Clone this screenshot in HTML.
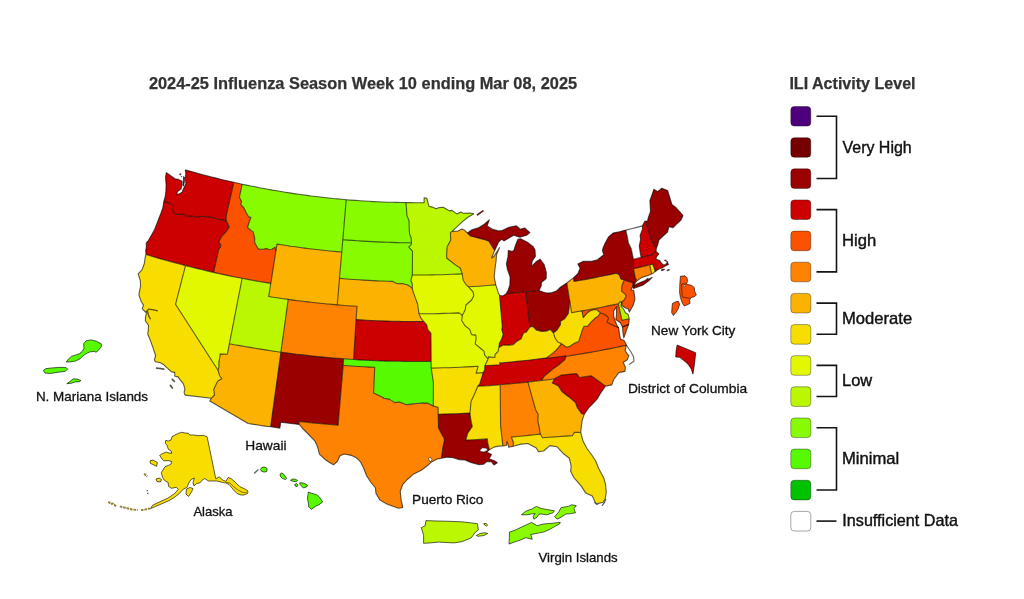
<!DOCTYPE html>
<html><head><meta charset="utf-8"><style>
html,body{margin:0;padding:0;background:#fff;}
svg{display:block;will-change:transform;}
text{font-family:"Liberation Sans",sans-serif;}
.ttl{font-size:16.3px;font-weight:bold;fill:#333;stroke:#333;stroke-width:0.25px;}
.lg{font-size:16.3px;fill:#111;stroke:#111;stroke-width:0.4px;}
.lb{font-size:13.6px;fill:#111;stroke:#111;stroke-width:0.3px;}
</style></head><body>
<svg width="1024" height="599" viewBox="0 0 1024 599">
<g class="fl">
<path d="M185.2,169.9L189.6,171.1L194.0,172.3L198.4,173.6L202.8,174.7L207.2,175.9L211.6,177.0L216.0,178.1L220.4,179.2L224.9,180.3L229.3,181.3L233.8,182.3L226.3,215.3L226.2,220.9L221.6,219.9L217.0,218.8L212.4,217.7L207.8,216.6L207.8,216.6L204.7,216.8L202.0,216.3L196.0,217.4L192.1,216.1L186.7,216.3L184.4,214.3L179.6,214.4L176.7,214.5L173.0,212.1L173.4,209.4L173.4,206.0L171.0,204.4L168.7,202.6L165.0,202.1L163.9,201.0L165.2,196.7L165.9,191.4L166.1,184.6L165.5,177.6L166.3,172.6L171.1,175.9L174.9,178.7L178.4,179.4L182.0,181.2L182.0,184.6L181.1,189.1L178.2,191.0L176.5,193.9L179.2,194.0L182.1,192.1L183.6,188.5L185.9,183.7L185.5,180.1L185.6,176.8L185.8,172.8L185.2,169.9Z" fill="#cc0000"/>
<path d="M163.9,201.0L165.0,202.1L168.7,202.6L171.0,204.4L173.4,206.0L173.4,209.4L173.0,212.1L176.7,214.5L179.6,214.4L184.4,214.3L186.7,216.3L192.1,216.1L196.0,217.4L202.0,216.3L204.7,216.8L207.8,216.6L207.8,216.6L212.4,217.7L217.0,218.8L221.6,219.9L226.2,220.9L227.7,223.3L229.1,227.0L227.1,230.6L223.9,234.0L221.4,236.8L218.7,242.3L220.7,244.1L220.6,246.8L218.8,249.1L213.6,272.4L207.9,271.1L202.3,269.8L196.7,268.4L191.1,267.0L185.5,265.6L180.5,264.3L175.6,263.0L170.6,261.6L165.7,260.3L160.8,258.9L155.8,257.4L150.9,256.0L146.0,254.5L145.7,250.9L146.4,246.3L146.2,242.9L148.4,240.6L152.1,234.1L154.6,229.4L157.5,222.0L160.9,213.3L162.7,208.3L163.9,201.0Z" fill="#cc0000"/>
<path d="M146.0,254.5L150.9,256.0L155.8,257.4L160.8,258.9L165.7,260.3L170.6,261.6L175.6,263.0L180.5,264.3L185.5,265.6L175.5,304.3L218.0,370.3L219.6,375.7L221.8,378.8L218.1,380.8L216.6,383.2L213.7,389.4L214.5,395.0L211.4,398.2L185.0,395.1L184.1,392.6L184.9,388.7L183.3,383.6L179.8,379.4L178.1,376.9L174.9,376.2L174.7,372.4L171.5,371.9L167.4,368.2L163.3,364.4L160.4,362.8L155.5,361.7L154.4,360.0L155.6,355.5L154.1,351.0L152.5,346.4L150.0,339.5L147.7,334.0L148.3,330.1L148.5,325.3L145.4,320.9L145.5,316.8L146.6,313.0L142.2,308.9L143.5,305.1L141.3,301.7L139.0,295.2L139.2,292.7L140.6,286.2L140.3,280.5L138.2,273.8L141.9,269.9L144.3,263.7L145.1,257.7L146.0,254.5Z" fill="#f8dd00"/>
<path d="M185.5,265.6L191.1,267.0L196.7,268.4L202.3,269.8L207.9,271.1L213.6,272.4L219.3,273.6L225.0,274.9L230.7,276.1L236.4,277.2L242.1,278.3L229.4,343.7L227.4,354.2L223.7,354.1L219.9,354.0L220.2,355.4L218.9,362.0L218.9,367.4L218.0,370.3L175.5,304.3L185.5,265.6Z" fill="#e1f800"/>
<path d="M233.8,182.3L242.2,184.2L239.4,197.2L241.6,201.4L240.8,204.6L244.0,208.0L246.3,212.7L248.7,216.9L250.9,217.4L248.9,223.0L247.5,227.5L251.6,230.9L253.3,231.9L254.8,238.9L254.6,242.2L257.8,248.2L259.6,249.2L263.4,249.2L266.4,248.4L269.0,249.5L271.9,249.3L275.1,247.1L275.9,250.9L270.8,283.4L265.0,282.4L259.3,281.5L253.5,280.5L247.8,279.4L242.1,278.3L236.4,277.2L230.7,276.1L225.0,274.9L219.3,273.6L213.6,272.4L218.8,249.1L220.6,246.8L220.7,244.1L218.7,242.3L221.4,236.8L223.9,234.0L227.1,230.6L229.1,227.0L227.7,223.3L226.2,220.9L226.3,215.3L233.8,182.3Z" fill="#fb5200"/>
<path d="M242.2,184.2L246.5,185.1L250.8,186.0L255.1,186.8L259.4,187.7L263.7,188.5L268.0,189.3L272.3,190.1L276.7,190.8L281.0,191.5L285.3,192.2L289.6,192.9L294.0,193.6L298.3,194.2L302.6,194.8L307.0,195.4L311.3,196.0L315.7,196.5L320.0,197.0L324.4,197.5L328.7,198.0L333.1,198.5L337.5,198.9L341.8,199.3L346.2,199.7L342.8,239.7L341.8,252.0L337.1,251.6L332.5,251.2L327.8,250.7L323.2,250.2L318.6,249.7L313.9,249.2L309.3,248.7L304.7,248.1L300.1,247.5L295.5,246.8L290.8,246.2L286.2,245.5L281.6,244.8L277.0,244.1L277.0,244.1L275.9,250.9L275.1,247.1L271.9,249.3L269.0,249.5L266.4,248.4L263.4,249.2L259.6,249.2L257.8,248.2L254.6,242.2L254.8,238.9L253.3,231.9L251.6,230.9L247.5,227.5L248.9,223.0L250.9,217.4L248.7,216.9L246.3,212.7L244.0,208.0L240.8,204.6L241.6,201.4L239.4,197.2L242.2,184.2Z" fill="#88fb00"/>
<path d="M275.9,250.9L277.0,244.1L277.0,244.1L281.6,244.8L286.2,245.5L290.8,246.2L295.5,246.8L300.1,247.5L304.7,248.1L309.3,248.7L313.9,249.2L318.6,249.7L323.2,250.2L327.8,250.7L332.5,251.2L337.1,251.6L341.8,252.0L339.5,278.4L337.3,304.9L332.3,304.4L327.4,304.0L322.5,303.5L317.6,303.0L312.7,302.5L307.8,301.9L302.9,301.3L298.0,300.7L293.1,300.1L288.2,299.4L283.3,298.7L278.4,298.0L273.5,297.3L268.7,296.5L270.8,283.4L275.9,250.9Z" fill="#fcb200"/>
<path d="M242.1,278.3L247.8,279.4L253.5,280.5L259.3,281.5L265.0,282.4L270.8,283.4L268.7,296.5L273.5,297.3L278.4,298.0L283.3,298.7L288.2,299.4L280.9,352.2L275.7,351.5L270.6,350.7L265.4,349.9L260.3,349.1L255.1,348.3L250.0,347.4L244.8,346.5L239.7,345.6L234.5,344.7L229.4,343.7L242.1,278.3Z" fill="#bbf700"/>
<path d="M229.4,343.7L234.5,344.7L239.7,345.6L244.8,346.5L250.0,347.4L255.1,348.3L260.3,349.1L265.4,349.9L270.6,350.7L275.7,351.5L280.9,352.2L270.6,426.8L265.0,426.1L259.4,425.2L253.8,424.4L248.1,423.5L248.1,423.5L209.8,401.0L211.4,398.2L214.5,395.0L213.7,389.4L216.6,383.2L218.1,380.8L221.8,378.8L219.6,375.7L218.0,370.3L218.9,367.4L218.9,362.0L220.2,355.4L219.9,354.0L223.7,354.1L227.4,354.2L229.4,343.7Z" fill="#fcb200"/>
<path d="M288.2,299.4L293.1,300.1L298.0,300.7L302.9,301.3L307.8,301.9L312.7,302.5L317.6,303.0L322.5,303.5L327.4,304.0L332.3,304.4L337.3,304.9L342.2,305.3L347.1,305.7L352.0,306.0L357.0,306.3L356.1,319.6L353.6,359.5L343.7,358.8L338.4,358.4L333.2,358.0L327.9,357.5L322.7,357.1L317.5,356.6L312.2,356.0L307.0,355.4L301.8,354.8L296.6,354.2L291.3,353.6L286.1,352.9L280.9,352.2L288.2,299.4Z" fill="#fd8300"/>
<path d="M280.9,352.2L286.1,352.9L291.3,353.6L296.6,354.2L301.8,354.8L307.0,355.4L312.2,356.0L317.5,356.6L322.7,357.1L327.9,357.5L333.2,358.0L338.4,358.4L343.7,358.8L343.2,365.5L338.1,425.1L338.1,425.1L332.5,424.7L326.8,424.2L321.2,423.7L315.6,423.2L309.9,422.6L304.3,422.0L298.7,421.4L299.3,424.4L293.1,423.7L286.9,423.0L280.7,422.2L279.9,428.1L279.9,428.1L270.6,426.8L280.9,352.2Z" fill="#9b0000"/>
<path d="M346.2,199.7L350.8,200.1L355.4,200.4L360.0,200.7L364.5,201.0L369.1,201.3L373.7,201.6L378.3,201.8L382.9,202.0L387.5,202.2L392.1,202.3L396.7,202.4L401.3,202.5L405.9,202.6L406.5,209.1L406.9,215.7L409.1,220.9L409.2,228.8L409.6,234.1L411.2,238.0L411.5,242.8L406.6,242.7L401.7,242.7L396.8,242.6L391.9,242.4L387.0,242.3L382.0,242.1L377.1,241.9L372.2,241.6L367.3,241.4L362.4,241.1L357.5,240.8L352.6,240.4L347.7,240.1L342.8,239.7L346.2,199.7Z" fill="#88fb00"/>
<path d="M342.8,239.7L347.7,240.1L352.6,240.4L357.5,240.8L362.4,241.1L367.3,241.4L372.2,241.6L377.1,241.9L382.0,242.1L387.0,242.3L391.9,242.4L396.8,242.6L401.7,242.7L406.6,242.7L411.5,242.8L411.1,244.6L408.8,247.2L412.5,251.2L412.4,275.0L410.9,280.3L412.3,284.3L412.3,288.4L409.9,286.3L407.0,284.7L402.2,283.5L397.4,283.7L392.7,281.4L387.8,281.2L383.0,281.0L378.2,280.9L373.3,280.6L368.5,280.4L363.7,280.1L358.8,279.8L354.0,279.5L349.2,279.2L344.3,278.8L339.5,278.4L341.8,252.0L342.8,239.7Z" fill="#88fb00"/>
<path d="M339.5,278.4L344.3,278.8L349.2,279.2L354.0,279.5L358.8,279.8L363.7,280.1L368.5,280.4L373.3,280.6L378.2,280.9L383.0,281.0L387.8,281.2L392.7,281.4L397.4,283.7L402.2,283.5L407.0,284.7L409.9,286.3L412.3,288.4L413.3,292.3L415.7,298.9L417.7,304.3L418.2,308.2L419.0,313.8L420.7,317.6L423.6,321.5L418.4,321.6L413.2,321.5L408.0,321.5L402.8,321.5L397.6,321.4L392.4,321.2L387.2,321.1L382.0,320.9L376.9,320.7L371.7,320.5L366.5,320.2L361.3,319.9L356.1,319.6L357.0,306.3L352.0,306.0L347.1,305.7L342.2,305.3L337.3,304.9L339.5,278.4Z" fill="#fcb200"/>
<path d="M356.1,319.6L361.3,319.9L366.5,320.2L371.7,320.5L376.9,320.7L382.0,320.9L387.2,321.1L392.4,321.2L397.6,321.4L402.8,321.5L408.0,321.5L413.2,321.5L418.4,321.6L423.6,321.5L426.7,324.8L427.8,329.5L430.9,333.2L431.2,361.4L425.5,361.5L420.0,361.5L414.5,361.5L408.9,361.5L403.4,361.4L397.8,361.3L392.3,361.2L386.8,361.1L381.2,360.9L375.7,360.7L370.2,360.4L364.6,360.2L359.1,359.9L353.6,359.5L356.1,319.6Z" fill="#cc0000"/>
<path d="M343.7,358.8L353.6,359.5L359.1,359.9L364.6,360.2L370.2,360.4L375.7,360.7L381.2,360.9L386.8,361.1L392.3,361.2L397.8,361.3L403.4,361.4L408.9,361.5L414.5,361.5L420.0,361.5L425.5,361.5L431.1,361.4L431.2,368.1L433.4,382.7L433.3,406.1L427.5,403.1L422.1,403.0L416.7,403.5L411.2,404.1L405.8,404.7L403.6,403.4L399.3,402.0L394.9,402.6L389.6,399.4L384.2,398.3L378.9,395.4L373.6,393.1L374.7,367.3L374.7,367.3L369.4,367.1L364.2,366.8L358.9,366.5L353.7,366.2L348.4,365.8L343.2,365.5L343.7,358.8Z" fill="#58fa00"/>
<path d="M343.2,365.5L338.1,425.1L338.1,425.1L332.5,424.7L326.8,424.2L321.2,423.7L315.6,423.2L309.9,422.6L304.3,422.0L298.7,421.4L299.3,424.4L302.6,428.5L308.7,434.5L314.9,441.1L317.7,447.3L319.4,454.1L324.7,459.2L329.1,462.2L333.5,464.8L337.3,461.5L340.0,455.7L344.1,454.0L351.5,455.4L355.9,457.4L360.3,461.6L363.5,467.7L366.6,475.8L371.0,482.5L375.5,488.0L375.9,493.2L379.8,499.9L385.6,503.4L392.8,506.2L398.7,508.2L402.9,507.5L401.2,500.4L400.2,491.2L402.6,484.7L407.3,479.5L413.2,474.3L421.3,470.3L428.2,465.0L431.0,462.3L437.3,458.9L441.3,458.2L442.3,452.2L442.8,447.6L444.3,440.9L444.2,438.3L441.1,433.0L438.5,427.9L438.2,414.3L438.1,407.2L433.3,406.1L427.5,403.1L422.1,403.0L416.7,403.5L411.2,404.1L405.8,404.7L403.6,403.4L399.3,402.0L394.9,402.6L389.6,399.4L384.2,398.3L378.9,395.4L373.6,393.1L374.7,367.3L374.7,367.3L369.4,367.1L364.2,366.8L358.9,366.5L353.7,366.2L348.4,365.8L343.2,365.5Z" fill="#fd8300"/>
<path d="M405.9,202.6L410.5,202.6L415.0,202.7L419.6,202.7L424.1,202.6L424.1,197.7L426.9,198.4L428.3,203.9L429.0,206.2L432.1,207.1L436.1,208.7L439.2,207.6L443.1,207.2L446.7,209.3L449.4,210.9L452.1,210.4L456.7,213.9L461.0,211.9L462.9,213.2L470.0,213.0L473.8,213.8L467.6,217.5L461.6,222.4L456.4,227.3L452.1,231.4L450.4,232.6L450.7,240.3L447.1,246.7L446.8,250.7L446.6,258.0L451.4,261.8L455.3,264.9L460.2,268.0L462.2,273.9L457.2,274.1L452.2,274.3L447.3,274.5L442.3,274.7L437.3,274.8L432.3,274.9L427.3,275.0L422.4,275.0L417.4,275.0L412.4,275.0L412.5,251.2L408.8,247.2L411.1,244.6L411.5,242.8L411.2,238.0L409.6,234.1L409.2,228.8L409.1,220.9L406.9,215.7L406.5,209.1L405.9,202.6Z" fill="#bbf700"/>
<path d="M412.4,275.0L417.4,275.0L422.4,275.0L427.3,275.0L432.3,274.9L437.3,274.8L442.3,274.7L447.3,274.5L452.2,274.3L457.2,274.1L462.2,273.9L463.2,280.5L465.8,284.3L468.5,286.8L473.0,291.9L473.8,295.8L471.6,300.0L465.9,305.0L465.2,309.7L462.3,315.4L459.1,312.9L454.1,313.1L449.1,313.3L444.0,313.4L439.0,313.6L434.0,313.7L429.0,313.8L424.0,313.8L419.0,313.8L418.2,308.2L417.7,304.3L415.7,298.9L413.3,292.3L412.3,288.4L412.3,284.3L410.9,280.3L412.4,275.0Z" fill="#e1f800"/>
<path d="M419.0,313.8L424.0,313.8L429.0,313.8L434.0,313.7L439.0,313.6L444.0,313.4L449.1,313.3L454.1,313.1L459.1,312.9L462.3,315.4L461.7,320.5L465.0,325.7L469.7,329.4L471.6,334.6L475.7,335.1L476.1,338.4L475.2,343.8L479.5,347.5L483.9,351.2L484.7,355.2L488.1,358.9L486.7,361.7L484.9,365.8L484.7,369.9L483.3,372.6L476.2,373.1L478.1,366.3L478.1,366.3L472.2,366.6L466.4,366.9L460.5,367.2L454.6,367.5L448.8,367.7L442.9,367.8L437.0,368.0L431.2,368.1L431.1,361.4L430.9,333.2L427.8,329.5L426.7,324.8L423.6,321.5L420.7,317.6L419.0,313.8Z" fill="#e1f800"/>
<path d="M431.2,368.1L437.0,368.0L442.9,367.8L448.8,367.7L454.6,367.5L460.5,367.2L466.4,366.9L472.2,366.6L478.1,366.3L478.1,366.3L476.2,373.1L483.3,372.6L481.5,378.1L479.7,384.2L477.7,386.3L474.9,393.2L471.0,401.4L470.0,413.4L463.6,413.4L457.3,413.7L450.9,413.9L444.6,414.1L438.2,414.3L438.1,407.2L433.3,406.1L433.4,382.7L431.2,368.1Z" fill="#f8dd00"/>
<path d="M438.2,414.3L444.6,414.1L450.9,413.9L457.3,413.7L463.6,413.4L470.0,413.1L470.9,420.0L472.3,426.5L467.6,433.4L465.9,440.1L465.9,440.1L473.1,439.8L480.2,439.4L487.3,438.9L488.0,444.2L489.5,449.7L486.8,452.2L491.6,454.5L489.0,458.7L494.9,460.9L497.3,462.7L494.0,465.0L491.5,461.8L486.8,461.5L483.6,464.3L479.0,464.6L474.3,463.5L470.8,462.4L464.9,460.0L459.1,459.6L453.3,457.8L447.6,457.1L441.3,458.2L442.3,452.2L442.8,447.6L444.3,440.9L444.2,438.3L441.1,433.0L438.5,427.9L438.2,414.3Z" fill="#9b0000"/>
<path d="M452.1,231.4L457.5,231.2L461.9,229.0L464.3,230.1L467.4,233.0L470.5,236.0L479.9,238.4L484.6,239.6L489.3,241.6L492.6,247.3L494.7,250.4L491.6,258.0L493.9,256.5L499.6,247.6L496.5,254.9L496.1,260.9L495.2,267.0L494.2,277.0L495.8,284.9L490.4,285.3L484.9,285.8L479.4,286.2L473.9,286.5L468.5,286.8L465.8,284.3L463.2,280.5L462.2,273.9L460.2,268.0L455.3,264.9L451.4,261.8L446.6,258.0L446.8,250.7L447.1,246.7L450.7,240.3L450.4,232.6L452.1,231.4Z" fill="#fcb200"/>
<path d="M495.8,284.9L490.4,285.3L484.9,285.8L479.4,286.2L473.9,286.5L468.5,286.8L473.0,291.9L473.8,295.8L471.6,300.0L465.9,305.0L465.2,309.7L462.3,315.4L461.7,320.5L465.0,325.7L469.7,329.4L471.6,334.6L475.7,335.1L476.1,338.4L475.2,343.8L479.5,347.5L483.9,351.2L484.7,355.2L488.1,358.9L488.5,356.9L494.8,357.5L495.1,354.4L498.0,351.5L498.9,347.4L499.3,343.4L501.6,339.2L503.2,334.3L501.8,329.8L502.3,326.4L499.5,295.2L498.5,293.3L495.8,284.9Z" fill="#e1f800"/>
<path d="M506.2,293.8L511.1,293.3L516.0,292.8L520.9,292.3L525.7,291.7L539.0,290.5L541.3,285.8L541.3,282.5L546.2,278.5L546.3,272.4L544.2,264.7L540.1,259.2L536.1,261.8L531.5,266.4L532.2,261.0L535.4,256.5L535.0,249.9L533.2,246.8L527.4,242.2L520.5,238.7L517.8,239.4L515.3,245.7L513.9,250.5L511.7,251.4L508.3,250.4L508.0,256.4L506.4,263.9L507.4,269.2L510.1,276.9L509.9,284.9L508.0,290.4L506.2,293.8Z" fill="#9b0000"/>
<path d="M467.4,233.0L472.0,229.7L478.2,227.9L484.3,224.2L489.3,219.8L487.1,225.9L492.9,229.4L498.5,230.9L502.1,230.5L509.1,227.2L516.2,225.7L520.3,229.2L524.7,228.0L529.9,232.6L526.6,235.3L519.9,237.2L513.6,235.3L509.3,237.7L504.1,240.9L501.6,239.2L498.6,242.1L494.7,250.4L492.6,247.3L489.3,241.6L484.6,239.6L479.9,238.4L470.5,236.0L467.4,233.0Z" fill="#9b0000"/>
<path d="M499.5,295.2L502.7,296.0L506.2,293.8L511.1,293.3L516.0,292.8L520.9,292.3L525.7,291.7L529.8,326.9L526.5,332.0L523.5,333.0L521.1,338.9L516.2,341.8L513.4,344.7L509.3,345.1L503.1,345.0L498.9,347.4L499.3,343.4L501.6,339.2L503.2,334.3L501.8,329.8L502.3,326.4L499.5,295.2Z" fill="#cc0000"/>
<path d="M525.7,291.7L539.0,290.5L543.7,292.2L546.8,293.1L550.7,292.9L556.4,291.1L560.7,287.0L566.8,283.0L569.7,300.5L569.3,306.5L568.4,313.4L564.7,318.7L560.5,321.4L560.5,324.8L557.1,330.0L553.4,332.9L550.4,329.6L546.0,331.3L541.9,331.4L536.5,330.1L533.0,326.5L529.8,326.9L525.7,291.7Z" fill="#9b0000"/>
<path d="M553.4,332.9L550.4,329.6L546.0,331.3L541.9,331.4L536.5,330.1L533.0,326.5L529.8,326.9L526.5,332.0L523.5,333.0L521.1,338.9L516.2,341.8L513.4,344.7L509.3,345.1L503.1,345.0L498.9,347.4L498.0,351.5L495.1,354.4L494.8,357.5L488.5,356.9L488.1,358.9L486.7,361.7L484.9,365.8L500.1,364.7L499.7,362.3L499.8,363.0L505.5,362.5L511.2,362.0L516.9,361.4L522.7,360.8L528.4,360.2L534.1,359.5L539.8,358.8L545.5,358.1L551.2,354.4L555.9,350.4L558.6,347.3L561.5,343.6L557.8,342.0L555.2,338.3L553.4,332.9Z" fill="#f8dd00"/>
<path d="M484.9,365.8L500.1,364.7L499.7,362.3L499.8,363.0L505.5,362.5L511.2,362.0L516.9,361.4L522.7,360.8L528.4,360.2L534.1,359.5L539.8,358.8L545.5,358.1L566.4,355.7L564.7,359.9L560.9,363.1L558.0,365.5L553.1,368.9L549.3,372.0L544.4,376.1L541.5,380.5L534.7,381.3L527.9,382.1L522.4,382.7L516.8,383.2L511.3,383.8L505.7,384.3L500.2,384.7L494.6,385.2L489.0,385.6L483.3,386.0L477.7,386.3L479.7,384.2L481.5,378.1L483.3,372.6L484.7,369.9L484.9,365.8Z" fill="#cc0000"/>
<path d="M477.7,386.3L483.3,386.0L489.0,385.6L494.6,385.2L500.2,384.7L500.6,426.1L502.9,446.0L498.4,446.1L493.9,447.1L489.5,449.7L488.0,444.2L487.3,438.9L480.2,439.4L473.1,439.8L465.9,440.1L465.9,440.1L467.6,433.4L472.3,426.5L470.9,420.0L470.0,413.4L471.0,401.4L474.9,393.2L477.7,386.3Z" fill="#f8dd00"/>
<path d="M500.2,384.7L505.7,384.3L511.3,383.8L516.8,383.2L522.4,382.7L527.9,382.1L535.6,409.7L538.1,414.3L537.8,421.1L539.0,426.3L540.4,434.1L534.6,434.8L528.8,435.4L522.9,436.0L517.1,436.5L511.3,437.1L513.4,442.2L513.2,446.2L508.7,447.3L507.1,441.4L506.3,445.5L502.9,446.0L500.6,426.1L500.2,384.9Z" fill="#fd8300"/>
<path d="M527.9,382.1L534.7,381.3L541.5,380.5L548.0,379.7L554.5,378.8L552.4,383.1L558.2,385.7L561.7,391.2L566.6,395.2L569.7,397.4L575.5,402.6L577.4,407.7L581.7,413.7L584.3,414.3L582.2,420.4L581.4,425.9L580.7,432.5L577.8,432.4L574.4,432.3L572.6,435.6L542.5,437.8L540.4,434.1L539.0,426.3L537.8,421.1L538.1,414.3L535.6,409.7L527.9,382.1Z" fill="#fcb200"/>
<path d="M540.4,434.1L542.5,437.8L572.6,435.6L574.4,432.3L577.8,432.4L580.7,432.5L583.2,441.6L587.3,449.0L591.8,455.0L595.7,461.0L598.7,468.5L603.9,478.3L605.6,484.6L606.3,492.5L605.0,499.3L603.1,502.3L596.0,504.1L592.3,496.1L585.8,493.1L581.1,485.9L573.9,477.6L570.7,471.4L571.1,466.1L569.4,458.3L563.6,453.8L556.9,446.7L549.8,445.6L543.6,451.0L538.4,451.6L536.3,447.9L527.8,443.5L521.0,444.1L513.2,446.2L513.4,442.2L511.3,437.1L517.1,436.5L522.9,436.0L528.8,435.4L534.6,434.8L540.4,434.1Z" fill="#f8dd00"/>
<path d="M554.5,378.8L561.5,375.1L575.9,373.6L577.1,374.1L579.5,377.5L591.2,375.8L605.5,386.1L600.2,393.8L597.2,399.0L593.4,403.1L588.6,407.9L584.3,414.3L581.7,413.7L577.4,407.7L575.5,402.6L569.7,397.4L566.6,395.2L561.7,391.2L558.2,385.7L552.4,383.1L554.5,378.8Z" fill="#cc0000"/>
<path d="M541.5,380.5L544.4,376.1L549.3,372.0L553.1,368.9L558.0,365.5L560.9,363.1L564.7,359.9L566.4,355.7L571.9,355.4L577.4,354.5L582.9,353.6L588.4,352.6L593.8,351.7L599.3,350.7L604.7,349.6L610.2,348.6L615.6,347.5L621.0,346.4L626.5,345.2L625.1,350.3L626.8,353.3L628.9,355.6L627.1,360.1L623.2,362.2L625.4,367.2L624.9,371.4L618.8,372.6L613.6,379.8L611.8,384.9L605.5,386.1L591.2,375.8L579.5,377.5L577.1,374.1L575.9,373.6L561.5,375.1L554.5,378.8L548.0,379.7L541.5,380.5Z" fill="#fd8300"/>
<path d="M561.5,343.6L558.6,347.3L555.9,350.4L551.2,354.4L545.6,358.5L566.4,355.7L571.9,355.4L577.4,354.5L582.9,353.6L588.4,352.6L593.8,351.7L599.3,350.7L604.7,349.6L610.2,348.6L615.6,347.5L621.0,346.4L626.5,345.2L624.1,340.6L620.5,339.0L619.3,333.1L618.7,327.8L614.6,325.9L609.4,323.6L607.0,322.0L608.5,318.3L607.5,316.5L603.4,313.9L600.4,312.9L598.1,316.3L594.9,318.3L591.4,321.6L587.6,326.4L583.9,326.4L582.1,330.7L580.8,335.0L578.7,341.4L573.8,343.6L570.0,346.2L566.5,347.2L561.5,343.6Z" fill="#fb5200"/>
<path d="M628.6,324.6L626.2,331.0L623.8,337.9L623.0,333.0L622.5,327.0Z" fill="#fb5200"/>
<path d="M561.5,343.6L557.8,342.0L555.2,338.3L553.4,332.9L557.1,330.0L560.5,324.8L560.5,321.4L564.7,318.7L568.4,313.4L569.3,306.5L569.7,300.5L571.6,312.6L571.6,312.6L576.8,311.8L582.0,310.9L583.2,317.7L586.8,313.4L589.5,311.2L593.3,309.8L596.9,309.8L600.4,312.9L598.1,316.3L594.9,318.3L591.4,321.6L587.6,326.4L583.9,326.4L582.1,330.7L580.8,335.0L578.7,341.4L573.8,343.6L570.0,346.2L566.5,347.2L561.5,343.6Z" fill="#f8dd00"/>
<path d="M600.4,312.9L596.9,309.8L593.3,309.8L589.5,311.2L586.8,313.4L583.2,317.7L582.0,310.9L587.2,310.0L592.4,309.0L597.6,308.0L602.8,307.0L608.0,305.9L613.2,304.9L618.4,303.8L621.9,320.2L629.3,318.7L628.6,324.6L622.5,327.0L620.3,322.7L615.9,319.5L616.5,314.7L616.5,309.9L616.8,306.4L613.6,311.2L613.6,315.9L615.2,321.0L617.3,326.1L618.7,327.8L614.6,325.9L609.4,323.6L607.0,322.0L608.5,318.3L607.5,316.5L603.4,313.9L600.4,312.9Z" fill="#fb5200"/>
<path d="M618.4,303.8L619.9,301.9L621.8,301.9L621.1,304.8L621.5,306.8L623.5,309.0L625.4,312.7L628.0,314.2L629.3,318.7L621.9,320.2L618.4,303.8Z" fill="#bbf700"/>
<path d="M573.4,277.9L570.4,280.1L566.8,283.0L569.7,300.5L571.6,312.6L571.6,312.6L576.8,311.8L582.0,310.9L587.2,310.0L592.4,309.0L597.6,308.0L602.8,307.0L608.0,305.9L613.2,304.9L618.4,303.8L619.9,301.9L621.8,301.9L624.1,300.0L626.3,296.1L624.8,293.8L621.6,291.1L621.7,286.9L622.6,284.0L624.2,280.1L620.9,278.9L619.0,274.6L616.1,273.2L616.1,273.2L610.8,274.4L605.6,275.5L600.3,276.5L595.1,277.6L589.8,278.6L584.6,279.6L579.3,280.5L574.0,281.5L573.4,277.9Z" fill="#fcb200"/>
<path d="M624.2,280.1L633.0,283.0L632.7,286.9L631.6,288.1L631.1,290.3L633.7,290.3L634.6,296.3L634.9,299.6L633.1,305.5L629.4,312.1L628.1,308.7L625.4,308.0L621.7,305.4L621.8,301.9L624.1,300.0L626.3,296.1L624.8,293.8L621.6,291.1L621.7,286.9L622.6,284.0L624.2,280.1Z" fill="#fb5200"/>
<path d="M573.4,277.9L578.1,273.3L580.1,268.3L577.9,263.9L582.8,261.4L591.5,261.4L597.5,259.8L601.3,256.7L603.8,254.8L602.4,250.4L603.2,247.5L605.2,243.0L608.6,236.8L613.0,233.1L613.0,233.1L619.4,231.7L625.8,230.1L627.3,236.6L628.4,243.1L631.2,248.6L633.4,259.0L633.5,268.5L635.4,278.3L636.4,279.4L635.3,282.4L634.6,285.3L632.7,286.9L633.0,283.0L624.2,280.1L620.9,278.9L619.0,274.6L616.1,273.2L616.1,273.2L610.8,274.4L605.6,275.5L600.3,276.5L595.1,277.6L589.8,278.6L584.6,279.6L579.3,280.5L574.0,281.5L573.4,277.9Z" fill="#9b0000"/>
<path d="M633.0,288.2L634.2,288.3L642.7,285.2L648.7,280.9L652.2,277.3L647.5,280.0L648.1,278.2L645.1,280.4L637.2,283.7L634.6,285.6L632.9,287.8Z" fill="#9b0000"/>
<path d="M633.6,268.8L639.0,267.4L644.3,266.1L649.7,264.7L651.6,274.0L647.4,275.7L641.8,277.4L638.3,279.9L635.3,282.4L636.4,279.4L635.4,278.3L633.5,268.5Z" fill="#fd8300"/>
<path d="M649.7,264.7L652.5,264.1L653.7,266.8L654.7,269.3L655.0,271.7L653.8,272.7L651.6,274.0L649.7,264.7Z" fill="#f8dd00"/>
<path d="M633.6,259.2L641.2,257.3L652.1,254.9L654.0,252.7L656.0,251.5L658.8,253.8L656.2,257.2L656.2,259.3L659.6,260.4L661.2,262.7L662.8,264.7L665.3,264.7L667.3,262.8L665.7,260.1L664.5,260.2L667.2,261.5L668.5,264.4L664.7,266.3L662.1,268.0L659.8,268.6L657.9,269.8L656.3,270.7L655.0,271.7L654.7,269.3L653.7,266.8L652.5,264.1L649.7,264.7L644.3,266.1L639.0,267.4L633.6,268.8L633.4,259.0Z" fill="#cc0000"/>
<path d="M625.8,230.1L631.4,228.8L636.9,227.4L642.4,225.9L642.4,229.4L640.1,235.4L640.6,239.4L639.3,245.9L640.4,253.8L641.2,257.3L633.6,259.2L631.2,248.6L628.4,243.1L627.3,236.6L625.8,230.1Z" fill="#ffffff"/>
<path d="M642.4,225.8L645.0,221.1L651.3,240.0L654.5,246.0L656.3,248.5L656.0,251.5L654.0,252.7L652.1,254.9L641.2,257.3L640.4,253.8L639.3,245.9L640.6,239.4L640.1,235.4L642.4,229.4L642.4,225.8Z" fill="#cc0000"/>
<path d="M645.2,221.1L647.5,221.4L648.1,218.3L650.5,211.4L649.9,200.7L653.9,189.3L657.6,191.6L661.8,188.3L667.6,190.4L671.9,204.5L676.4,208.0L680.2,212.3L683.1,215.5L680.7,220.4L676.1,224.6L673.1,227.6L668.9,226.8L667.5,232.0L662.0,237.0L658.9,240.0L658.0,243.7L656.3,248.5L654.5,246.0L651.3,240.0L645.2,221.1Z" fill="#9b0000"/>
</g>
<g fill="none" stroke="rgba(0,0,0,0.62)" stroke-width="1.1" stroke-linejoin="round">
<path d="M185.2,169.9L189.6,171.1L194.0,172.3L198.4,173.6L202.8,174.7L207.2,175.9L211.6,177.0L216.0,178.1L220.4,179.2L224.9,180.3L229.3,181.3L233.8,182.3"/>
<path d="M233.8,182.3L242.2,184.2"/>
<path d="M242.2,184.2L246.5,185.1L250.8,186.0L255.1,186.8L259.4,187.7L263.7,188.5L268.0,189.3L272.3,190.1L276.7,190.8L281.0,191.5L285.3,192.2L289.6,192.9L294.0,193.6L298.3,194.2L302.6,194.8L307.0,195.4L311.3,196.0L315.7,196.5L320.0,197.0L324.4,197.5L328.7,198.0L333.1,198.5L337.5,198.9L341.8,199.3L346.2,199.7"/>
<path d="M346.2,199.7L350.8,200.1L355.4,200.4L360.0,200.7L364.5,201.0L369.1,201.3L373.7,201.6L378.3,201.8L382.9,202.0L387.5,202.2L392.1,202.3L396.7,202.4L401.3,202.5L405.9,202.6"/>
<path d="M405.9,202.6L410.5,202.6L415.0,202.7L419.6,202.7L424.1,202.6L424.1,197.7L426.9,198.4L428.3,203.9L429.0,206.2L432.1,207.1L436.1,208.7L439.2,207.6L443.1,207.2L446.7,209.3L449.4,210.9L452.1,210.4L456.7,213.9L461.0,211.9L462.9,213.2L470.0,213.0L473.8,213.8"/>
<path d="M473.8,213.8L467.6,217.5L461.6,222.4L456.4,227.3L452.1,231.4"/>
<path d="M185.2,169.9L185.8,172.8L185.6,176.8L185.5,180.1L185.9,183.7L183.6,188.5L182.1,192.1L179.2,194.0L176.5,193.9L178.2,191.0L181.1,189.1L182.0,184.6L182.0,181.2L178.4,179.4L174.9,178.7L171.1,175.9L166.3,172.6L165.5,177.6L166.1,184.6L165.9,191.4L165.2,196.7L163.9,201.0"/>
<path d="M163.9,201.0L165.0,202.1L168.7,202.6L171.0,204.4L173.4,206.0L173.4,209.4L173.0,212.1L176.7,214.5L179.6,214.4L184.4,214.3L186.7,216.3L192.1,216.1L196.0,217.4L202.0,216.3L204.7,216.8L207.8,216.6L207.8,216.6L212.4,217.7L217.0,218.8L221.6,219.9L226.2,220.9"/>
<path d="M226.2,220.9L227.7,223.3L229.1,227.0L227.1,230.6L223.9,234.0L221.4,236.8L218.7,242.3L220.7,244.1L220.6,246.8L218.8,249.1L213.6,272.4"/>
<path d="M226.2,220.9L226.3,215.3L233.8,182.3"/>
<path d="M242.2,184.2L239.4,197.2L241.6,201.4L240.8,204.6L244.0,208.0L246.3,212.7L248.7,216.9L250.9,217.4L248.9,223.0L247.5,227.5L251.6,230.9L253.3,231.9L254.8,238.9L254.6,242.2L257.8,248.2L259.6,249.2L263.4,249.2L266.4,248.4L269.0,249.5L271.9,249.3L275.1,247.1L275.9,250.9"/>
<path d="M275.9,250.9L277.0,244.1L277.0,244.1L281.6,244.8L286.2,245.5L290.8,246.2L295.5,246.8L300.1,247.5L304.7,248.1L309.3,248.7L313.9,249.2L318.6,249.7L323.2,250.2L327.8,250.7L332.5,251.2L337.1,251.6L341.8,252.0"/>
<path d="M275.9,250.9L270.8,283.4"/>
<path d="M242.1,278.3L247.8,279.4L253.5,280.5L259.3,281.5L265.0,282.4L270.8,283.4"/>
<path d="M213.6,272.4L219.3,273.6L225.0,274.9L230.7,276.1L236.4,277.2L242.1,278.3"/>
<path d="M185.5,265.6L191.1,267.0L196.7,268.4L202.3,269.8L207.9,271.1L213.6,272.4"/>
<path d="M146.0,254.5L150.9,256.0L155.8,257.4L160.8,258.9L165.7,260.3L170.6,261.6L175.6,263.0L180.5,264.3L185.5,265.6"/>
<path d="M163.9,201.0L162.7,208.3L160.9,213.3L157.5,222.0L154.6,229.4L152.1,234.1L148.4,240.6L146.2,242.9L146.4,246.3L145.7,250.9L146.0,254.5"/>
<path d="M146.0,254.5L145.1,257.7L144.3,263.7L141.9,269.9L138.2,273.8L140.3,280.5L140.6,286.2L139.2,292.7L139.0,295.2L141.3,301.7L143.5,305.1L142.2,308.9L146.6,313.0L145.5,316.8L145.4,320.9L148.5,325.3L148.3,330.1L147.7,334.0L150.0,339.5L152.5,346.4L154.1,351.0L155.6,355.5L154.4,360.0L155.5,361.7L160.4,362.8L163.3,364.4L167.4,368.2L171.5,371.9L174.7,372.4L174.9,376.2L178.1,376.9L179.8,379.4L183.3,383.6L184.9,388.7L184.1,392.6L185.0,395.1"/>
<path d="M185.0,395.1L211.4,398.2"/>
<path d="M211.4,398.2L214.5,395.0L213.7,389.4L216.6,383.2L218.1,380.8L221.8,378.8L219.6,375.7L218.0,370.3"/>
<path d="M218.0,370.3L175.5,304.3L185.5,265.6"/>
<path d="M218.0,370.3L218.9,367.4L218.9,362.0L220.2,355.4L219.9,354.0L223.7,354.1L227.4,354.2L229.4,343.7"/>
<path d="M229.4,343.7L242.1,278.3"/>
<path d="M229.4,343.7L234.5,344.7L239.7,345.6L244.8,346.5L250.0,347.4L255.1,348.3L260.3,349.1L265.4,349.9L270.6,350.7L275.7,351.5L280.9,352.2"/>
<path d="M280.9,352.2L288.2,299.4"/>
<path d="M288.2,299.4L283.3,298.7L278.4,298.0L273.5,297.3L268.7,296.5L270.8,283.4"/>
<path d="M280.9,352.2L270.6,426.8"/>
<path d="M211.4,398.2L209.8,401.0L248.1,423.5L248.1,423.5L253.8,424.4L259.4,425.2L265.0,426.1L270.6,426.8"/>
<path d="M280.9,352.2L286.1,352.9L291.3,353.6L296.6,354.2L301.8,354.8L307.0,355.4L312.2,356.0L317.5,356.6L322.7,357.1L327.9,357.5L333.2,358.0L338.4,358.4L343.7,358.8"/>
<path d="M343.7,358.8L343.2,365.5"/>
<path d="M343.2,365.5L338.1,425.1L338.1,425.1L332.5,424.7L326.8,424.2L321.2,423.7L315.6,423.2L309.9,422.6L304.3,422.0L298.7,421.4L299.3,424.4"/>
<path d="M299.3,424.4L293.1,423.7L286.9,423.0L280.7,422.2L279.9,428.1L279.9,428.1L270.6,426.8"/>
<path d="M299.3,424.4L302.6,428.5L308.7,434.5L314.9,441.1L317.7,447.3L319.4,454.1L324.7,459.2L329.1,462.2L333.5,464.8L337.3,461.5L340.0,455.7L344.1,454.0L351.5,455.4L355.9,457.4L360.3,461.6L363.5,467.7L366.6,475.8L371.0,482.5L375.5,488.0L375.9,493.2L379.8,499.9L385.6,503.4L392.8,506.2L398.7,508.2L402.9,507.5"/>
<path d="M402.9,507.5L401.2,500.4L400.2,491.2L402.6,484.7L407.3,479.5L413.2,474.3L421.3,470.3L428.2,465.0L431.0,462.3L437.3,458.9L441.3,458.2"/>
<path d="M441.3,458.2L442.3,452.2L442.8,447.6L444.3,440.9L444.2,438.3L441.1,433.0L438.5,427.9L438.2,414.3"/>
<path d="M438.2,414.3L438.1,407.2L433.3,406.1"/>
<path d="M433.3,406.1L427.5,403.1L422.1,403.0L416.7,403.5L411.2,404.1L405.8,404.7L403.6,403.4L399.3,402.0L394.9,402.6L389.6,399.4L384.2,398.3L378.9,395.4L373.6,393.1L374.7,367.3L374.7,367.3L369.4,367.1L364.2,366.8L358.9,366.5L353.7,366.2L348.4,365.8L343.2,365.5"/>
<path d="M353.6,359.5L359.1,359.9L364.6,360.2L370.2,360.4L375.7,360.7L381.2,360.9L386.8,361.1L392.3,361.2L397.8,361.3L403.4,361.4L408.9,361.5L414.5,361.5L420.0,361.5L425.5,361.5L431.1,361.4"/>
<path d="M343.7,358.8L353.6,359.5"/>
<path d="M431.1,361.4L431.2,368.1"/>
<path d="M431.2,368.1L433.4,382.7L433.3,406.1"/>
<path d="M356.1,319.6L353.6,359.5"/>
<path d="M337.3,304.9L342.2,305.3L347.1,305.7L352.0,306.0L357.0,306.3L356.1,319.6"/>
<path d="M288.2,299.4L293.1,300.1L298.0,300.7L302.9,301.3L307.8,301.9L312.7,302.5L317.6,303.0L322.5,303.5L327.4,304.0L332.3,304.4L337.3,304.9"/>
<path d="M337.3,304.9L339.5,278.4"/>
<path d="M339.5,278.4L341.8,252.0"/>
<path d="M341.8,252.0L342.8,239.7"/>
<path d="M342.8,239.7L346.2,199.7"/>
<path d="M342.8,239.7L347.7,240.1L352.6,240.4L357.5,240.8L362.4,241.1L367.3,241.4L372.2,241.6L377.1,241.9L382.0,242.1L387.0,242.3L391.9,242.4L396.8,242.6L401.7,242.7L406.6,242.7L411.5,242.8"/>
<path d="M405.9,202.6L406.5,209.1L406.9,215.7L409.1,220.9L409.2,228.8L409.6,234.1L411.2,238.0L411.5,242.8"/>
<path d="M411.5,242.8L411.1,244.6L408.8,247.2L412.5,251.2L412.4,275.0"/>
<path d="M412.4,275.0L410.9,280.3L412.3,284.3L412.3,288.4"/>
<path d="M339.5,278.4L344.3,278.8L349.2,279.2L354.0,279.5L358.8,279.8L363.7,280.1L368.5,280.4L373.3,280.6L378.2,280.9L383.0,281.0L387.8,281.2L392.7,281.4L397.4,283.7L402.2,283.5L407.0,284.7L409.9,286.3L412.3,288.4"/>
<path d="M412.3,288.4L413.3,292.3L415.7,298.9L417.7,304.3L418.2,308.2L419.0,313.8"/>
<path d="M419.0,313.8L420.7,317.6L423.6,321.5"/>
<path d="M356.1,319.6L361.3,319.9L366.5,320.2L371.7,320.5L376.9,320.7L382.0,320.9L387.2,321.1L392.4,321.2L397.6,321.4L402.8,321.5L408.0,321.5L413.2,321.5L418.4,321.6L423.6,321.5"/>
<path d="M423.6,321.5L426.7,324.8L427.8,329.5L430.9,333.2L431.2,361.4"/>
<path d="M412.4,275.0L417.4,275.0L422.4,275.0L427.3,275.0L432.3,274.9L437.3,274.8L442.3,274.7L447.3,274.5L452.2,274.3L457.2,274.1L462.2,273.9"/>
<path d="M419.0,313.8L424.0,313.8L429.0,313.8L434.0,313.7L439.0,313.6L444.0,313.4L449.1,313.3L454.1,313.1L459.1,312.9L462.3,315.4"/>
<path d="M462.2,273.9L463.2,280.5L465.8,284.3L468.5,286.8"/>
<path d="M468.5,286.8L473.0,291.9L473.8,295.8L471.6,300.0L465.9,305.0L465.2,309.7L462.3,315.4"/>
<path d="M452.1,231.4L450.4,232.6L450.7,240.3L447.1,246.7L446.8,250.7L446.6,258.0L451.4,261.8L455.3,264.9L460.2,268.0L462.2,273.9"/>
<path d="M462.3,315.4L461.7,320.5L465.0,325.7L469.7,329.4L471.6,334.6L475.7,335.1L476.1,338.4L475.2,343.8L479.5,347.5L483.9,351.2L484.7,355.2L488.1,358.9"/>
<path d="M488.1,358.9L486.7,361.7L484.9,365.8"/>
<path d="M484.9,365.8L484.7,369.9L483.3,372.6"/>
<path d="M483.3,372.6L476.2,373.1L478.1,366.3L478.1,366.3L472.2,366.6L466.4,366.9L460.5,367.2L454.6,367.5L448.8,367.7L442.9,367.8L437.0,368.0L431.2,368.1"/>
<path d="M483.3,372.6L481.5,378.1L479.7,384.2L477.7,386.3"/>
<path d="M477.7,386.3L474.9,393.2L471.0,401.4L470.0,413.4"/>
<path d="M470.0,413.1L463.6,413.4L457.3,413.7L450.9,413.9L444.6,414.1L438.2,414.3"/>
<path d="M470.0,413.4L470.9,420.0L472.3,426.5L467.6,433.4L465.9,440.1L465.9,440.1L473.1,439.8L480.2,439.4L487.3,438.9L488.0,444.2L489.5,449.7"/>
<path d="M489.5,449.7L486.8,452.2L491.6,454.5L489.0,458.7L494.9,460.9L497.3,462.7L494.0,465.0L491.5,461.8L486.8,461.5L483.6,464.3L479.0,464.6L474.3,463.5L470.8,462.4L464.9,460.0L459.1,459.6L453.3,457.8L447.6,457.1L441.3,458.2"/>
<path d="M489.5,449.7L493.9,447.1L498.4,446.1L502.9,446.0"/>
<path d="M502.9,446.0L500.6,426.1L500.2,384.9"/>
<path d="M477.7,386.3L483.3,386.0L489.0,385.6L494.6,385.2L500.2,384.7"/>
<path d="M500.2,384.7L505.7,384.3L511.3,383.8L516.8,383.2L522.4,382.7L527.9,382.1"/>
<path d="M527.9,382.1L535.6,409.7L538.1,414.3L537.8,421.1L539.0,426.3L540.4,434.1"/>
<path d="M540.4,434.1L534.6,434.8L528.8,435.4L522.9,436.0L517.1,436.5L511.3,437.1L513.4,442.2L513.2,446.2"/>
<path d="M513.2,446.2L508.7,447.3L507.1,441.4L506.3,445.5L502.9,446.0"/>
<path d="M540.4,434.1L542.5,437.8L572.6,435.6L574.4,432.3L577.8,432.4L580.7,432.5"/>
<path d="M580.7,432.5L583.2,441.6L587.3,449.0L591.8,455.0L595.7,461.0L598.7,468.5L603.9,478.3L605.6,484.6L606.3,492.5L605.0,499.3L603.1,502.3L596.0,504.1L592.3,496.1L585.8,493.1L581.1,485.9L573.9,477.6L570.7,471.4L571.1,466.1L569.4,458.3L563.6,453.8L556.9,446.7L549.8,445.6L543.6,451.0L538.4,451.6L536.3,447.9L527.8,443.5L521.0,444.1L513.2,446.2"/>
<path d="M527.9,382.1L534.7,381.3L541.5,380.5"/>
<path d="M541.5,380.5L548.0,379.7L554.5,378.8"/>
<path d="M554.5,378.8L552.4,383.1L558.2,385.7L561.7,391.2L566.6,395.2L569.7,397.4L575.5,402.6L577.4,407.7L581.7,413.7L584.3,414.3"/>
<path d="M584.3,414.3L582.2,420.4L581.4,425.9L580.7,432.5"/>
<path d="M554.5,378.8L561.5,375.1L575.9,373.6L577.1,374.1L579.5,377.5L591.2,375.8L605.5,386.1"/>
<path d="M605.5,386.1L600.2,393.8L597.2,399.0L593.4,403.1L588.6,407.9L584.3,414.3"/>
<path d="M541.5,380.5L544.4,376.1L549.3,372.0L553.1,368.9L558.0,365.5L560.9,363.1L564.7,359.9L566.4,355.7"/>
<path d="M566.5,356.2L571.9,355.4L577.4,354.5L582.9,353.6L588.4,352.6L593.8,351.7L599.3,350.7L604.7,349.6L610.2,348.6L615.6,347.5L621.0,346.4L626.5,345.2"/>
<path d="M626.5,345.2L625.1,350.3L626.8,353.3L628.9,355.6L627.1,360.1L623.2,362.2L625.4,367.2L624.9,371.4L618.8,372.6L613.6,379.8L611.8,384.9L605.5,386.1"/>
<path d="M626.5,345.2L630.8,351.8L633.5,356.6L634.0,361.3L631.5,362.8L629.2,364.6"/>
<path d="M484.9,365.8L500.1,364.7L499.7,362.3L499.8,363.0L505.5,362.5L511.2,362.0L516.9,361.4L522.7,360.8L528.4,360.2L534.1,359.5L539.8,358.8L545.5,358.1"/>
<path d="M545.6,358.5L566.4,355.7"/>
<path d="M545.6,358.5L551.2,354.4L555.9,350.4L558.6,347.3L561.5,343.6"/>
<path d="M561.5,343.6L557.8,342.0L555.2,338.3L553.4,332.9"/>
<path d="M553.4,332.9L550.4,329.6L546.0,331.3L541.9,331.4L536.5,330.1L533.0,326.5L529.8,326.9"/>
<path d="M529.8,326.9L526.5,332.0L523.5,333.0L521.1,338.9L516.2,341.8L513.4,344.7L509.3,345.1L503.1,345.0L498.9,347.4"/>
<path d="M498.9,347.4L498.0,351.5L495.1,354.4L494.8,357.5L488.5,356.9L488.1,358.9"/>
<path d="M499.5,295.2L502.3,326.4L501.8,329.8L503.2,334.3L501.6,339.2L499.3,343.4L498.9,347.4"/>
<path d="M495.8,284.9L490.4,285.3L484.9,285.8L479.4,286.2L473.9,286.5L468.5,286.8"/>
<path d="M495.8,284.9L498.5,293.3L499.5,295.2"/>
<path d="M499.5,295.2L502.7,296.0L506.2,293.8"/>
<path d="M506.2,293.8L511.1,293.3L516.0,292.8L520.9,292.3L525.7,291.7"/>
<path d="M525.7,291.7L529.8,326.9"/>
<path d="M525.7,291.7L539.0,290.5"/>
<path d="M539.0,290.5L543.7,292.2L546.8,293.1L550.7,292.9L556.4,291.1L560.7,287.0L566.8,283.0"/>
<path d="M566.8,283.0L569.7,300.5"/>
<path d="M569.7,300.5L569.3,306.5L568.4,313.4L564.7,318.7L560.5,321.4L560.5,324.8L557.1,330.0L553.4,332.9"/>
<path d="M569.7,300.5L571.6,312.6L571.6,312.6L576.8,311.8L582.0,310.9"/>
<path d="M582.0,310.9L583.2,317.7L586.8,313.4L589.5,311.2L593.3,309.8L596.9,309.8L600.4,312.9"/>
<path d="M600.4,312.9L598.1,316.3L594.9,318.3L591.4,321.6L587.6,326.4L583.9,326.4L582.1,330.7L580.8,335.0L578.7,341.4L573.8,343.6L570.0,346.2L566.5,347.2L561.5,343.6"/>
<path d="M600.4,312.9L603.4,313.9L607.5,316.5L608.5,318.3L607.0,322.0L609.4,323.6L614.6,325.9L618.7,327.8"/>
<path d="M618.7,327.8L619.3,333.1L620.5,339.0L624.1,340.6L626.5,345.2"/>
<path d="M582.0,310.9L587.2,310.0L592.4,309.0L597.6,308.0L602.8,307.0L608.0,305.9L613.2,304.9L618.4,303.8"/>
<path d="M618.4,303.8L621.9,320.2L629.3,318.7"/>
<path d="M629.3,318.7L628.6,324.6L622.5,327.0L620.3,322.7L615.9,319.5L616.5,314.7L616.5,309.9L616.8,306.4L613.6,311.2L613.6,315.9L615.2,321.0L617.3,326.1L618.7,327.8"/>
<path d="M628.6,324.6L626.2,331.0L623.8,337.9L623.0,333.0L622.5,327.0Z"/>
<path d="M618.4,303.8L619.9,301.9L621.8,301.9"/>
<path d="M621.8,301.9L621.1,304.8L621.5,306.8L623.5,309.0L625.4,312.7L628.0,314.2L629.3,318.7"/>
<path d="M624.2,280.1L633.0,283.0L632.7,286.9"/>
<path d="M632.7,286.9L631.6,288.1L631.1,290.3L633.7,290.3L634.6,296.3L634.9,299.6L633.1,305.5L629.4,312.1L628.1,308.7L625.4,308.0L621.7,305.4L621.8,301.9"/>
<path d="M621.8,301.9L624.1,300.0L626.3,296.1L624.8,293.8L621.6,291.1L621.7,286.9L622.6,284.0L624.2,280.1"/>
<path d="M624.2,280.1L620.9,278.9L619.0,274.6L616.1,273.2L616.1,273.2L610.8,274.4L605.6,275.5L600.3,276.5L595.1,277.6L589.8,278.6L584.6,279.6L579.3,280.5L574.0,281.5L573.4,277.9"/>
<path d="M573.4,277.9L570.4,280.1L566.8,283.0"/>
<path d="M573.4,277.9L578.1,273.3L580.1,268.3L577.9,263.9L582.8,261.4L591.5,261.4L597.5,259.8L601.3,256.7L603.8,254.8L602.4,250.4L603.2,247.5L605.2,243.0L608.6,236.8L613.0,233.1L613.0,233.1L619.4,231.7L625.8,230.1"/>
<path d="M625.8,230.1L627.3,236.6L628.4,243.1L631.2,248.6L633.4,259.0"/>
<path d="M633.4,259.0L633.5,268.5"/>
<path d="M633.5,268.5L635.4,278.3L636.4,279.4L635.3,282.4"/>
<path d="M635.3,282.4L634.6,285.3L632.7,286.9"/>
<path d="M633.6,268.8L639.0,267.4L644.3,266.1L649.7,264.7"/>
<path d="M649.7,264.7L651.6,274.0"/>
<path d="M651.6,274.0L647.4,275.7L641.8,277.4L638.3,279.9L635.3,282.4"/>
<path d="M649.7,264.7L652.5,264.1L653.7,266.8L654.7,269.3L655.0,271.7"/>
<path d="M655.0,271.7L653.8,272.7L651.6,274.0"/>
<path d="M633.6,259.2L641.2,257.3"/>
<path d="M641.2,257.3L652.1,254.9L654.0,252.7L656.0,251.5"/>
<path d="M656.0,251.5L658.8,253.8L656.2,257.2L656.2,259.3L659.6,260.4L661.2,262.7L662.8,264.7L665.3,264.7L667.3,262.8L665.7,260.1L664.5,260.2L667.2,261.5L668.5,264.4L664.7,266.3L662.1,268.0L659.8,268.6L657.9,269.8L656.3,270.7L655.0,271.7"/>
<path d="M625.8,230.1L631.4,228.8L636.9,227.4L642.4,225.9"/>
<path d="M642.4,225.8L642.4,229.4L640.1,235.4L640.6,239.4L639.3,245.9L640.4,253.8L641.2,257.3"/>
<path d="M642.4,225.8L645.0,221.1"/>
<path d="M645.2,221.1L651.3,240.0L654.5,246.0L656.3,248.5"/>
<path d="M656.3,248.5L656.0,251.5"/>
<path d="M645.2,221.1L647.5,221.4L648.1,218.3L650.5,211.4L649.9,200.7L653.9,189.3L657.6,191.6L661.8,188.3L667.6,190.4L671.9,204.5L676.4,208.0L680.2,212.3L683.1,215.5"/>
<path d="M683.1,215.5L680.7,220.4L676.1,224.6L673.1,227.6L668.9,226.8L667.5,232.0L662.0,237.0L658.9,240.0L658.0,243.7L656.3,248.5"/>
<path d="M539.0,290.5L541.3,285.8L541.3,282.5L546.2,278.5L546.3,272.4L544.2,264.7L540.1,259.2L536.1,261.8L531.5,266.4L532.2,261.0L535.4,256.5L535.0,249.9L533.2,246.8L527.4,242.2L520.5,238.7L517.8,239.4L515.3,245.7L513.9,250.5L511.7,251.4L508.3,250.4L508.0,256.4L506.4,263.9L507.4,269.2L510.1,276.9L509.9,284.9L508.0,290.4L506.2,293.8"/>
<path d="M467.4,233.0L472.0,229.7L478.2,227.9L484.3,224.2L489.3,219.8L487.1,225.9L492.9,229.4L498.5,230.9L502.1,230.5L509.1,227.2L516.2,225.7L520.3,229.2L524.7,228.0L529.9,232.6L526.6,235.3L519.9,237.2L513.6,235.3L509.3,237.7L504.1,240.9L501.6,239.2L498.6,242.1L494.7,250.4"/>
<path d="M494.7,250.4L492.6,247.3L489.3,241.6L484.6,239.6L479.9,238.4L470.5,236.0L467.4,233.0"/>
<path d="M452.1,231.4L457.5,231.2L461.9,229.0L464.3,230.1L467.4,233.0"/>
<path d="M494.7,250.4L491.6,258.0L493.9,256.5L499.6,247.6L496.5,254.9L496.1,260.9L495.2,267.0L494.2,277.0L495.8,284.9"/>
<path d="M633.0,288.2L634.2,288.3L642.7,285.2L648.7,280.9L652.2,277.3L647.5,280.0L648.1,278.2L645.1,280.4L637.2,283.7L634.6,285.6L632.9,287.8Z"/>
</g>
<path d="M477.3,215.5L483.7,211.1L482.7,210.5L476.8,214.6Z" fill="#9b0000" stroke="rgba(0,0,0,0.62)" stroke-width="0.8"/>
<path d="M661.4,270.8L664.2,269.9L664.5,269.1L661.6,269.5Z" fill="#cc0000" stroke="rgba(0,0,0,0.62)" stroke-width="0.9"/>
<path d="M667.0,270.8L669.6,270.1L669.2,269.5L667.3,270.0Z" fill="#cc0000" stroke="rgba(0,0,0,0.62)" stroke-width="0.9"/>
<path d="M146.3,311.6L148.5,309.2L152,309.6L155,310.1L157.4,310.9M147.6,311.5L148.3,314.5L149.4,317.4L150.4,318.8" fill="none" stroke="rgba(0,0,0,0.62)" stroke-width="1.3" stroke-linecap="round"/>
<path d="M156.6,368.1L160,368.5L163.7,369.2M172.3,379.4L174.4,381.4M170.4,385.4L172.4,388.1" fill="none" stroke="#5b5540" stroke-width="1.7" stroke-linecap="round"/>
<path d="M605.6,499.2L604.5,502.5L602.3,505.3M594.8,502.6L597.5,504.1" fill="none" stroke="#5b5570" stroke-width="1.3" stroke-linecap="round"/>
<path d="M428.4,458.2L430.4,457.3L431.9,459.6L431,461.6L429.4,461.2Z" fill="#fff" stroke="rgba(0,0,0,0.62)" stroke-width="0.8"/>
<path d="M479.8,450.0L482.6,447.8L486.6,448.3L487.8,450.2L484.0,452.0L480.5,451.5Z" fill="#fff" stroke="rgba(0,0,0,0.62)" stroke-width="0.8"/>
<g stroke="rgba(0,0,0,0.62)" stroke-width="1" stroke-linejoin="round">
<path d="M181.7,432.3L185.1,433.0L188.4,433.3L189.7,435.0L193.7,435.0L198.4,435.7L203.1,435.3L207.1,436.7L215.8,478.8L219.5,476.8L222.5,480.0L226.0,481.3L228.0,477.5L231.0,478.5L235.0,482.0L238.0,485.0L241.0,487.3L245.0,489.0L248.0,491.0L247.5,493.5L244.0,495.0L241.0,495.0L237.0,493.5L234.5,491.0L232.0,488.0L229.0,484.5L226.0,483.0L222.5,482.5L219.0,481.5L216.5,481.0L214.0,481.0L208.6,481.0L204.7,478.6L201.8,480.5L199.8,483.0L196.9,483.4L194.0,485.9L193.0,482.5L194.4,478.1L191.0,479.5L188.6,483.4L187.1,487.3L183.2,489.3L179.3,493.5L174.4,497.4L169.5,500.4L162.7,503.4L155.9,506.3L150.5,508.6L152.6,505.2L159.8,501.8L167.6,498.3L174.2,493.9L178.3,489.3L176.4,487.3L171.5,488.3L168.6,486.4L168.1,482.5L164.6,480.5L162.7,477.6L161.2,472.7L163.0,470.0L165.0,466.7L168.4,465.4L171.0,464.1L171.7,461.4L168.4,460.7L163.7,460.7L162.3,459.4L159.7,455.4L161.7,454.0L166.4,452.0L169.0,453.0L171.7,453.4L171.0,450.7L168.4,449.4L167.0,445.4L165.4,443.4L165.7,440.4L168.4,441.0L171.0,440.0L172.0,436.7L175.0,435.0L178.4,433.3Z" fill="#f8dd00"/>
<path d="M150.0,461.0L153.0,460.0L157.4,462.5L156.5,466.4L153.0,464.5L150.5,463.5Z" fill="#f8dd00"/>
<path d="M156.0,479.0L159.0,478.0L161.5,479.5L160.5,482.0L157.0,481.5Z" fill="#f8dd00"/>
<path d="M186.5,489.0L190.0,487.5L193.0,488.5L191.5,492.0L188.5,496.5L186.0,494.0Z" fill="#f8dd00"/>
<path d="M260.4,469.5L262.0,467.3L265.0,467.1L267.1,468.5L266.8,471.5L264.0,472.1L261.5,471.2Z" fill="#58fa00"/>
<path d="M280.0,474.0L281.8,472.9L284.0,474.5L286.7,478.5L285.5,479.6L282.5,478.5L280.5,476.5Z" fill="#58fa00"/>
<path d="M290.5,480.3L292.5,479.0L295.5,479.3L297.6,480.5L296.5,481.7L293.0,481.3Z" fill="#58fa00"/>
<path d="M294.7,484.5L296.5,483.5L298.0,485.0L297.0,486.7L295.2,486.0Z" fill="#58fa00"/>
<path d="M299.7,482.7L303.4,483.0L307.4,485.0L307.0,486.7L303.4,488.0L301.7,486.3L300.0,484.3Z" fill="#58fa00"/>
<path d="M308.4,492.0L312.0,493.4L316.7,494.7L319.4,497.0L322.7,502.0L319.4,504.4L315.4,506.4L311.4,509.4L308.7,507.0L308.4,503.0L307.4,498.4L308.0,494.4Z" fill="#58fa00"/>
<path d="M425.9,520.6L436.0,521.0L446.3,521.2L461.9,521.8L471.3,522.9L477.5,523.7L478.3,530.0L475.2,532.3L471.3,537.8L461.9,541.7L454.1,542.9L438.4,542.1L430.6,542.9L423.6,543.3L423.6,535.4L421.3,527.6L425.2,525.7Z" fill="#bbf700"/>
<path d="M476.3,535.5L480.0,533.5L485.0,532.7L487.7,533.5L484.0,535.5L478.0,536.3Z" fill="#bbf700"/>
<path d="M483.8,523.5L486.0,523.5L487.7,525.0L486.5,526.1L484.5,525.0Z" fill="#bbf700"/>
<path d="M509.4,532.1L516.2,529.7L521.0,527.3L528.2,524.0L531.5,522.4L537.1,525.7L543.5,524.0L553.1,523.2L560.3,522.4L559.5,524.0L554.7,526.5L549.1,529.7L543.5,532.1L537.1,533.3L530.7,534.5L532.3,539.3L525.8,537.7L520.2,540.1L513.0,542.5L509.0,544.1L509.4,537.7Z" fill="#88fb00"/>
<path d="M521.4,514.8L525.8,511.2L532.3,508.8L536.3,506.4L541.1,508.4L547.5,509.6L554.3,510.8L553.1,512.8L546.7,514.8L541.1,514.0L538.7,514.4L537.1,517.2L533.9,519.2L533.1,516.4L535.1,513.6L531.5,514.0L526.6,514.8Z" fill="#88fb00"/>
<path d="M554.7,516.8L558.7,512.0L561.1,507.6L568.3,506.4L571.5,504.8L576.3,505.6L573.9,508.8L575.5,512.8L570.7,513.6L565.9,514.0L561.1,517.2L557.1,519.2Z" fill="#88fb00"/>
<path d="M66.3,362.0L68.5,358.9L71.6,356.2L75.2,355.2L79.6,353.6L82.2,351.4L84.0,348.3L83.6,343.8L86.2,340.8L91.1,339.9L96.4,341.2L101.3,343.8L101.3,346.9L98.2,350.5L96.0,352.3L94.6,351.4L90.2,351.8L86.2,353.6L82.7,356.2L80.0,358.9L75.2,361.1L69.9,362.0Z" fill="#58fa00"/>
<path d="M43.3,370.4L46.0,368.6L52.2,367.9L61.0,367.3L66.3,367.7L67.6,369.1L65.4,371.3L58.4,372.2L50.4,373.5L45.1,373.1Z" fill="#58fa00"/>
<path d="M66.8,383.7L69.9,381.5L73.4,378.8L77.8,379.2L80.9,380.6L79.6,381.7L75.2,381.9L71.6,383.2Z" fill="#58fa00"/>
<path d="M680.4,276.3L685.0,275.8L687.1,277.9L687.5,281.7L686.3,283.8L688.4,284.6L691.7,285.4L694.2,287.5L694.6,290.9L696.3,295.1L694.2,296.7L690.9,297.6L689.6,300.5L690.1,303.4L686.7,305.1L684.2,305.9L682.5,303.4L680.4,297.6L679.6,292.5L679.8,285.0L680.2,279.0Z" fill="#fb5200"/>
<path d="M678.4,301.3L679.6,304.2L678.4,308.4L675.9,312.6L673.4,315.5L671.7,312.6L672.1,306.7L672.5,303.4L675.9,301.7Z" fill="#fb5200"/>
<path d="M183.6,176.6L184.6,177.2L184.4,181.5L183.6,186.0L182.9,185.6L183.3,181.0Z" fill="#cc0000"/>
<path d="M677.1,345.0L695.7,352.7L695.0,359.8L694.0,367.5L692.9,374.1L691.2,368.9L688.4,364.7L685.5,361.9L682.0,359.1L679.6,357.3L675.7,357.0L676.1,350.6Z" fill="#cc0000"/>
</g>
<path d="M144.1,473.8L147.3,476.5" fill="none" stroke="#8f8130" stroke-width="1.9" stroke-dasharray="2.6 0.9" stroke-linecap="butt"/>
<path d="M108.3,501.8L111.0,504.0L113.0,503.5L116.5,506.8" fill="none" stroke="#8f8130" stroke-width="1.9" stroke-dasharray="2.6 0.9" stroke-linecap="butt"/>
<path d="M119.8,506.4L124.0,507.5L128.0,508.5L132.0,509.5L137.7,510.1" fill="none" stroke="#8f8130" stroke-width="1.9" stroke-dasharray="2.6 0.9" stroke-linecap="butt"/>
<path d="M140.9,510.1L145.0,509.5L150.0,508.5" fill="none" stroke="#8f8130" stroke-width="1.9" stroke-dasharray="2.6 0.9" stroke-linecap="butt"/>
<path d="M226,482.2L230,483L234,487L238,490L243,492.5L246.5,492.3" fill="none" stroke="rgba(0,0,0,0.62)" stroke-width="0.8"/>
<circle cx="180.3" cy="174.3" r="1.1" fill="#5a4a4a"/>
<circle cx="181.6" cy="176.6" r="0.7" fill="#5a4a4a"/>
<circle cx="147.3" cy="490.8" r="0.8" fill="#555"/>
<circle cx="147.8" cy="493.5" r="0.8" fill="#555"/>
<path d="M254.6,473.0L257.9,470.0" fill="none" stroke="#666" stroke-width="1.5" stroke-linecap="round"/>
<path d="M681.7,283.9L686.3,283.8" fill="none" stroke="rgba(0,0,0,0.62)" stroke-width="0.8"/>
<path d="M681.6,284.2L682.2,296.8" fill="none" stroke="rgba(0,0,0,0.62)" stroke-width="0.8"/>
<path d="M682.4,297.0L689.8,298.2" fill="none" stroke="rgba(0,0,0,0.62)" stroke-width="0.8"/>
<path d="M683.6,285.0L685.6,284.9L685.2,286.6L683.9,286.7Z" fill="#fff" stroke="rgba(0,0,0,0.62)" stroke-width="0.6"/>
<rect x="790.8" y="106.5" width="20" height="19.6" rx="3.5" fill="#4e007c" stroke="rgba(0,0,0,0.35)" stroke-width="1"/>
<rect x="790.8" y="137.7" width="20" height="19.6" rx="3.5" fill="#740000" stroke="rgba(0,0,0,0.35)" stroke-width="1"/>
<rect x="790.8" y="168.8" width="20" height="19.6" rx="3.5" fill="#9b0000" stroke="rgba(0,0,0,0.35)" stroke-width="1"/>
<rect x="790.8" y="199.9" width="20" height="19.6" rx="3.5" fill="#cc0000" stroke="rgba(0,0,0,0.35)" stroke-width="1"/>
<rect x="790.8" y="231.1" width="20" height="19.6" rx="3.5" fill="#fb5200" stroke="rgba(0,0,0,0.35)" stroke-width="1"/>
<rect x="790.8" y="262.2" width="20" height="19.6" rx="3.5" fill="#fd8300" stroke="rgba(0,0,0,0.35)" stroke-width="1"/>
<rect x="790.8" y="293.4" width="20" height="19.6" rx="3.5" fill="#fcb200" stroke="rgba(0,0,0,0.35)" stroke-width="1"/>
<rect x="790.8" y="324.6" width="20" height="19.6" rx="3.5" fill="#f8dd00" stroke="rgba(0,0,0,0.35)" stroke-width="1"/>
<rect x="790.8" y="355.7" width="20" height="19.6" rx="3.5" fill="#e1f800" stroke="rgba(0,0,0,0.35)" stroke-width="1"/>
<rect x="790.8" y="386.8" width="20" height="19.6" rx="3.5" fill="#bbf700" stroke="rgba(0,0,0,0.35)" stroke-width="1"/>
<rect x="790.8" y="418.0" width="20" height="19.6" rx="3.5" fill="#88fb00" stroke="rgba(0,0,0,0.35)" stroke-width="1"/>
<rect x="790.8" y="449.1" width="20" height="19.6" rx="3.5" fill="#58fa00" stroke="rgba(0,0,0,0.35)" stroke-width="1"/>
<rect x="790.8" y="480.3" width="20" height="19.6" rx="3.5" fill="#00c200" stroke="rgba(0,0,0,0.35)" stroke-width="1"/>
<rect x="790.8" y="511.4" width="20" height="19.6" rx="3.5" fill="#ffffff" stroke="rgba(0,0,0,0.35)" stroke-width="1"/>
<path d="M816.5,116.2H836.5V178.5H816.5" fill="none" stroke="#151515" stroke-width="1.6"/>
<path d="M816.5,209.6H836.5V271.9H816.5" fill="none" stroke="#151515" stroke-width="1.6"/>
<path d="M816.5,303.1H836.5V334.2H816.5" fill="none" stroke="#151515" stroke-width="1.6"/>
<path d="M816.5,365.4H836.5V396.5H816.5" fill="none" stroke="#151515" stroke-width="1.6"/>
<path d="M816.5,427.7H836.5V490.0H816.5" fill="none" stroke="#151515" stroke-width="1.6"/>
<path d="M816.5,521.1H836.5" fill="none" stroke="#151515" stroke-width="1.6"/>
<text x="148.90" y="88.90" class="ttl" style="font-size:15.8px" textLength="428.20" lengthAdjust="spacingAndGlyphs">2024-25 Influenza Season Week 10 ending Mar 08, 2025</text>
<text x="789.40" y="88.70" class="ttl" style="font-size:15.8px" textLength="126.20" lengthAdjust="spacingAndGlyphs">ILI Activity Level</text>
<text x="842.50" y="152.60" class="lg" style="font-size:16.2px" textLength="69.20" lengthAdjust="spacingAndGlyphs">Very High</text>
<text x="842.00" y="246.00" class="lg" style="font-size:16.2px" textLength="34.20" lengthAdjust="spacingAndGlyphs">High</text>
<text x="842.00" y="323.60" class="lg" style="font-size:16.2px" textLength="70.20" lengthAdjust="spacingAndGlyphs">Moderate</text>
<text x="842.00" y="385.80" class="lg" style="font-size:16.2px" textLength="30.20" lengthAdjust="spacingAndGlyphs">Low</text>
<text x="842.00" y="463.60" class="lg" style="font-size:16.2px" textLength="57.20" lengthAdjust="spacingAndGlyphs">Minimal</text>
<text x="842.30" y="525.70" class="lg" style="font-size:16.2px" textLength="115.70" lengthAdjust="spacingAndGlyphs">Insufficient Data</text>
<text x="35.90" y="400.60" class="lb" style="font-size:13.3px" textLength="112.20" lengthAdjust="spacingAndGlyphs">N. Mariana Islands</text>
<text x="245.30" y="449.80" class="lb" style="font-size:13.3px" textLength="41.20" lengthAdjust="spacingAndGlyphs">Hawaii</text>
<text x="193.40" y="516.10" class="lb" style="font-size:13.3px" textLength="39.20" lengthAdjust="spacingAndGlyphs">Alaska</text>
<text x="412.10" y="503.90" class="lb" style="font-size:13.3px" textLength="71.20" lengthAdjust="spacingAndGlyphs">Puerto Rico</text>
<text x="538.50" y="562.00" class="lb" style="font-size:13.3px" textLength="79.20" lengthAdjust="spacingAndGlyphs">Virgin Islands</text>
<text x="651.10" y="334.70" class="lb" style="font-size:13.3px" textLength="84.20" lengthAdjust="spacingAndGlyphs">New York City</text>
<text x="627.90" y="392.60" class="lb" style="font-size:13.3px" textLength="119.20" lengthAdjust="spacingAndGlyphs">District of Columbia</text>
</svg>
</body></html>
